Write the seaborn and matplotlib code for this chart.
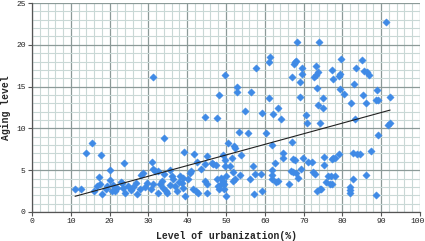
import matplotlib
matplotlib.use("Agg")
import matplotlib.pyplot as plt
from matplotlib.ticker import MultipleLocator
from matplotlib.transforms import ScaledTranslation
import seaborn as sns
import pandas as pd

# Level of urbanization (%) and aging level
urbanization = [
    11.1, 12.6, 15.5, 13.8, 17.7, 23.6, 20.0, 17.2, 16.0, 16.7, 17.5, 18.0, 19.1, 20.1, 19.4,
    21.0, 21.4, 21.8, 22.9, 23.5, 24.0, 24.8, 26.7, 27.0, 27.8, 28.1, 23.2, 25.5, 20.6, 26.0,
    28.7, 29.6, 30.8, 31.3, 30.6, 31.7, 32.6, 33.0, 33.4, 32.6, 34.1, 34.5, 34.9, 35.6, 35.6,
    36.4, 36.9, 38.1, 38.6, 38.9, 39.3, 39.4, 38.9, 40.3, 40.7, 41.1, 41.6, 42.3, 42.7, 41.8,
    42.4, 43.6, 44.6, 45.0, 44.6, 45.0, 45.0, 31.1, 44.6, 34.1, 36.2, 37.4, 31.3, 29.0, 33.8,
    37.8,
    46.3, 47.4, 47.6, 48.0, 48.6, 49.5, 49.8, 57.8, 61.3, 61.1, 52.9, 52.9, 56.4, 48.3, 61.0,
    63.3, 54.8, 59.2, 62.2, 47.7, 53.4, 55.6, 60.3, 61.8, 50.6, 52.1, 52.3, 49.3, 51.5, 53.8,
    46.6, 49.8, 49.7, 51.0, 57.0, 62.6, 51.9, 53.6, 57.5, 59.0, 61.8, 61.9, 61.8, 63.5, 48.6,
    49.1, 50.0, 49.5, 51.7, 52.2, 56.2, 48.3, 50.1, 57.2, 59.2, 64.3,
    64.6, 64.6, 66.9, 62.9, 66.3, 67.2, 67.8, 66.7, 67.3, 68.0, 68.6, 69.3, 69.8, 71.2, 72.1,
    72.5, 72.9, 73.4, 74.1, 74.5, 75.3, 75.3, 76.2, 77.1, 78.0, 75.9, 76.7, 77.2, 77.2, 77.7,
    78.1, 79.2, 82.8, 83.7, 84.5, 87.3, 82.7, 82.0, 82.0, 82.0, 86.1, 88.7,
    68.4, 73.9, 67.8, 67.6, 68.0, 69.5, 67.0, 69.5, 69.1, 69.1, 73.1, 73.6, 73.2, 72.8, 73.4,
    74.9, 73.8, 75.1, 77.4, 77.7, 79.6, 79.4, 79.0, 79.4, 80.5, 70.5, 70.8, 74.2, 91.2, 85.1,
    83.5, 85.6, 86.3, 86.9, 83.0, 88.8, 85.4, 82.2, 86.0, 88.6, 89.1, 92.3, 83.2, 91.7, 92.3,
    89.1,
]
aging = [
    2.8, 2.7, 8.2, 7.0, 6.8, 5.9, 5.0, 4.2, 2.5, 3.1, 3.3, 2.2, 2.7, 3.8, 3.1,
    3.2, 2.5, 2.9, 3.6, 2.9, 2.3, 3.1, 3.5, 2.1, 2.8, 4.4, 3.5, 2.6, 2.5, 3.0,
    4.7, 3.5, 6.0, 5.2, 2.7, 4.9, 2.3, 3.3, 3.7, 4.9, 4.6, 2.5, 2.3, 5.0, 3.2,
    3.9, 3.1, 4.3, 3.5, 4.1, 7.2, 1.9, 2.9, 3.9, 4.7, 4.9, 2.7, 2.5, 2.3, 6.9,
    6.0, 5.2, 5.7, 6.7, 3.7, 3.4, 2.3, 16.2, 11.4, 8.9, 4.3, 2.5, 3.3, 3.0, 2.9,
    3.6,
    5.9, 5.6, 4.0, 3.1, 3.4, 2.7, 16.4, 17.2, 18.6, 17.9, 14.9, 14.3, 14.3, 14.0, 13.6,
    12.4, 12.1, 11.8, 11.7, 11.2, 9.6, 9.5, 9.5, 8.0, 8.2, 7.9, 7.6, 6.8, 6.4, 6.8,
    5.8, 6.2, 5.5, 5.5, 5.5, 5.9, 4.8, 4.4, 4.6, 4.5, 5.0, 4.4, 3.9, 3.7, 4.1,
    3.7, 4.3, 3.3, 3.7, 3.9, 3.9, 2.8, 1.9, 2.2, 2.5, 11.1,
    7.0, 6.5, 8.4, 3.6, 3.3, 6.3, 6.2, 4.9, 4.8, 4.7, 4.1, 5.2, 6.4, 6.0, 6.0,
    4.8, 4.5, 2.5, 2.7, 2.8, 6.6, 5.6, 4.3, 4.3, 4.3, 3.6, 3.3, 3.3, 6.3, 6.4,
    6.5, 6.9, 7.0, 6.9, 6.9, 7.3, 3.9, 3.0, 2.6, 2.3, 4.4, 2.0,
    20.3, 20.3, 17.9, 17.7, 18.1, 17.2, 16.1, 16.5, 15.5, 13.8, 17.5, 16.7, 16.4, 16.1, 14.8,
    13.6, 12.8, 12.4, 17.0, 15.9, 18.3, 16.5, 16.3, 14.7, 14.1, 11.6, 10.7, 10.7, 22.7, 18.2,
    17.2, 16.9, 16.7, 16.4, 15.3, 14.6, 14.0, 13.0, 13.0, 13.4, 13.4, 13.7, 11.1, 10.4, 10.6,
    9.2,
]

x_ticks = [0, 10, 20, 30, 40, 50, 60, 70, 80, 90, 100]
y_ticks = [0, 5, 10, 15, 20, 25]

df = pd.DataFrame({"urbanization": urbanization, "aging": aging})

sns.set_theme(style="white")
plt.rcParams["font.family"] = ["Liberation Mono", "DejaVu Sans"]

fig = plt.figure(figsize=(4.25, 2.41), dpi=100)
ax = fig.add_axes([32 / 425, 1 - 212 / 241, 388 / 425, 209 / 241])

ax.set_xlim(0, 100)
ax.set_ylim(0, 25)
ax.xaxis.set_major_locator(MultipleLocator(10))
ax.xaxis.set_minor_locator(MultipleLocator(2))
ax.yaxis.set_major_locator(MultipleLocator(5))
ax.yaxis.set_minor_locator(MultipleLocator(1))
ax.grid(which="minor", color="#c9d8d6", linewidth=0.8)
ax.grid(which="major", color="#8c9a98", linewidth=0.9)
ax.set_axisbelow(True)

sns.scatterplot(data=df, x="urbanization", y="aging", marker="D", s=14,
                color="#3f8ae6", edgecolor="#3f8ae6", linewidth=0.3, ax=ax, zorder=3)
sns.regplot(data=df, x="urbanization", y="aging", scatter=False, ci=None,
            line_kws={"color": "#202020", "linewidth": 0.8, "zorder": 4}, ax=ax)

ax.set_xticks(x_ticks)
ax.set_yticks(y_ticks)
ax.tick_params(axis="both", which="major", labelsize=5.8, length=3, width=0.8,
               color="#555555", labelcolor="#222222", pad=1.5, direction="out")
ax.tick_params(axis="both", which="minor", length=0)
ax.tick_params(axis="x", bottom=True)
ax.tick_params(axis="y", left=True)

# keep the last x tick label inside the figure
last = ax.get_xticklabels()[-1]
last.set_transform(last.get_transform() + ScaledTranslation(-2.5 / 100, 0, fig.dpi_scale_trans))

for side in ["top", "right"]:
    ax.spines[side].set_visible(False)
ax.spines["left"].set_color("#555555")
ax.spines["bottom"].set_color("#555555")
ax.spines["left"].set_linewidth(0.9)
ax.spines["bottom"].set_linewidth(0.9)

ax.set_xlabel("Level of urbanization(%)", fontsize=7, fontweight="bold")
ax.set_ylabel("Aging level", fontsize=7, fontweight="bold")
ax.xaxis.set_label_coords(0.5, -0.09)
ax.yaxis.set_label_coords(-0.053, 0.5)

fig.savefig("out.png", dpi=100)
